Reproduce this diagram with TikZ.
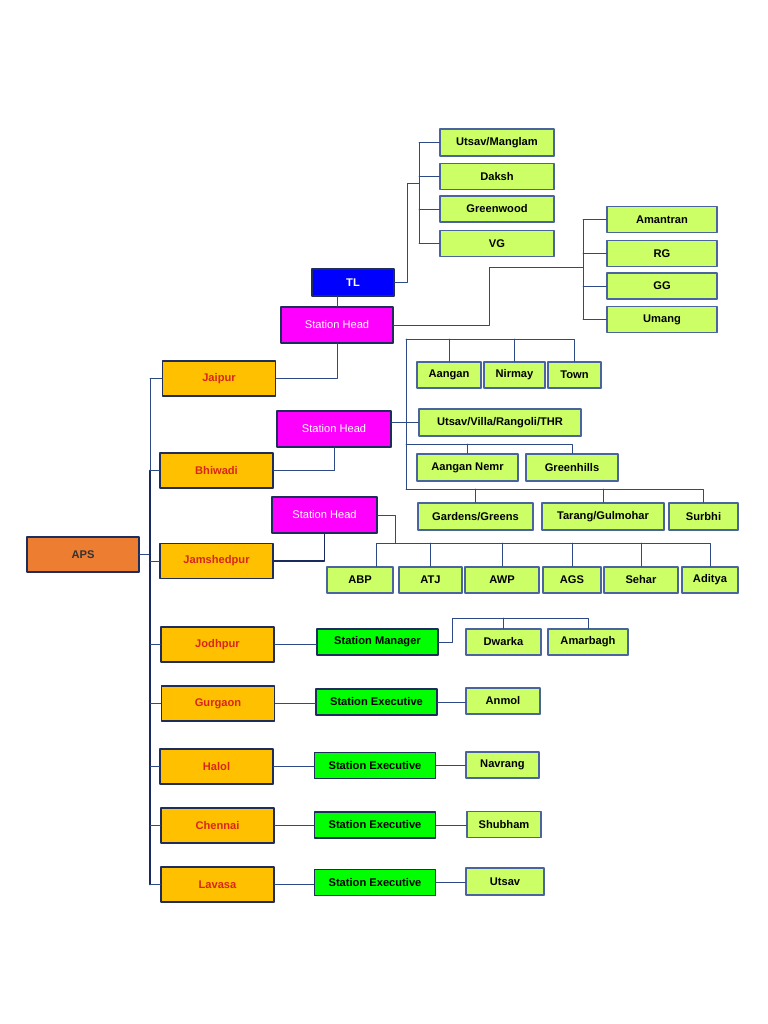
\documentclass[tikz,border=0pt]{standalone}
\usepackage{fontspec}
\setmainfont{Liberation Sans}
\usetikzlibrary{shadows}

\definecolor{apsorange}{HTML}{ED7D31}
\definecolor{cityorange}{HTML}{FFC000}
\definecolor{cityred}{HTML}{D8261B}
\definecolor{headpink}{HTML}{FF00FF}
\definecolor{tlblue}{HTML}{0000FF}
\definecolor{leaflime}{HTML}{CCFF66}
\definecolor{staffgreen}{HTML}{00FF00}
\definecolor{boxnavy}{HTML}{1F2D5C}
\definecolor{leafblue}{HTML}{4A64A0}
\definecolor{linknavy}{HTML}{2E4A86}
\definecolor{spinenavy}{HTML}{1B2A5E}

\begin{document}
\begin{tikzpicture}[x=0.03cm,y=-0.03cm,line cap=round,line join=round,
  box/.style={draw=boxnavy,line width=1pt,inner sep=0pt,minimum height=0.78cm,
    font=\fontsize{9.5}{11}\selectfont\bfseries,
    drop shadow={shadow xshift=0.7pt,shadow yshift=-0.7pt,opacity=0.3}},
  city/.style={box,fill=cityorange,text=cityred,minimum width=3.39cm,
    minimum height=1.05cm,line width=1.2pt},
  head/.style={box,fill=headpink,text=white,minimum height=1.08cm,
    font=\fontsize{9.5}{11}\selectfont},
  leaf/.style={box,fill=leaflime,draw=leafblue,line width=0.9pt,text=black},
  staff/.style={box,fill=staffgreen,text=black,minimum width=3.63cm},
  link/.style={draw=linknavy,line width=0.8pt},
  spine/.style={draw=spinenavy,line width=1.5pt}]
  \useasboundingbox[fill=white] (0,0) rectangle (768,1024);

  % root and cities
  \node[city,fill=apsorange,text=black!80,minimum width=3.36cm] (aps) at (83,554.5) {APS};
  \node[city] (jaipur) at (219,378.5) {Jaipur};
  \node[city] (bhiwadi) at (216.5,470.5) {Bhiwadi};
  \node[city] (jamshedpur) at (216.5,561) {Jamshedpur};
  \node[city] (jodhpur) at (217.5,644.5) {Jodhpur};
  \node[city] (gurgaon) at (218,703.5) {Gurgaon};
  \node[city] (halol) at (216.5,766.5) {Halol};
  \node[city] (chennai) at (217.5,825.5) {Chennai};
  \node[city] (lavasa) at (217.5,884.5) {Lavasa};

  % station heads
  \node[box,fill=tlblue,text=white,minimum width=2.46cm,minimum height=0.81cm] (tl) at (353,282.5) {TL};
  \node[head,minimum width=3.36cm] (sha) at (337,325) {Station Head};
  \node[head,minimum width=3.42cm] (shb) at (334,429) {Station Head};
  \node[head,minimum width=3.15cm] (shc) at (324.5,515) {Station Head};

  % staff
  \node[staff] (sm) at (377.5,642) {Station Manager};
  \node[staff] (sea) at (376.5,702) {Station Executive};
  \node[staff] (seb) at (375,765.5) {Station Executive};
  \node[staff] (sec) at (375,825) {Station Executive};
  \node[staff] (sed) at (375,882.5) {Station Executive};

  % sites under TL
  \node[leaf,minimum width=3.42cm,minimum height=0.81cm] (utsavm) at (497,142.5) {Utsav/Manglam};
  \node[leaf,minimum width=3.42cm] (daksh) at (497,176.5) {Daksh};
  \node[leaf,minimum width=3.42cm] (greenwood) at (497,209) {Greenwood};
  \node[leaf,minimum width=3.42cm] (vg) at (497,243.5) {VG};

  % sites under first head
  \node[leaf,minimum width=3.3cm] (amantran) at (662,219.5) {Amantran};
  \node[leaf,minimum width=3.3cm] (rg) at (662,253.5) {RG};
  \node[leaf,minimum width=3.3cm] (gg) at (662,286) {GG};
  \node[leaf,minimum width=3.3cm] (umang) at (662,319.5) {Umang};

  % sites under second head
  \node[leaf,minimum width=1.92cm] (aangan) at (449,375) {Aangan};
  \node[leaf,minimum width=1.83cm] (nirmay) at (514.5,375) {Nirmay};
  \node[leaf,minimum width=1.59cm] (town) at (574.5,375) {Town};
  \node[leaf,minimum width=4.86cm,minimum height=0.81cm] (utsavv) at (500,422.5) {Utsav/Villa/Rangoli/THR};
  \node[leaf,minimum width=3.03cm,minimum height=0.81cm] (aangann) at (467.5,467.5) {Aangan Nemr};
  \node[leaf,minimum width=2.76cm,minimum height=0.81cm] (greenhills) at (572,467.5) {Greenhills};
  \node[leaf,minimum width=3.45cm,minimum height=0.81cm] (gardens) at (475.5,516.5) {Gardens/Greens};
  \node[leaf,minimum width=3.66cm,minimum height=0.81cm] (tarang) at (603,516.5) {Tarang/Gulmohar};
  \node[leaf,minimum width=2.07cm,minimum height=0.81cm] (surbhi) at (703.5,516.5) {Surbhi};

  % sites under third head
  \node[leaf,minimum width=1.98cm] (abp) at (360,580) {ABP};
  \node[leaf,minimum width=1.89cm] (atj) at (430.5,580) {ATJ};
  \node[leaf,minimum width=2.22cm] (awp) at (502,580) {AWP};
  \node[leaf,minimum width=1.74cm] (ags) at (572,580) {AGS};
  \node[leaf,minimum width=2.22cm] (sehar) at (641,580) {Sehar};
  \node[leaf,minimum width=1.68cm] (aditya) at (710,580) {Aditya};

  % sites under manager and executives
  \node[leaf,minimum width=2.25cm] (dwarka) at (503.5,642) {Dwarka};
  \node[leaf,minimum width=2.4cm] (amarbagh) at (588,642) {Amarbagh};
  \node[leaf,minimum width=2.22cm] (anmol) at (503,701) {Anmol};
  \node[leaf,minimum width=2.19cm] (navrang) at (502.5,765) {Navrang};
  \node[leaf,minimum width=2.22cm] (shubham) at (504,824.5) {Shubham};
  \node[leaf,minimum width=2.34cm,minimum height=0.81cm] (utsav) at (505,881.5) {Utsav};

  % trunk from APS
  \coordinate (trunk) at (150,554.5);
  \draw[link] (aps.east) -- (trunk);
  \draw[link] (jaipur.west -| trunk) -- (bhiwadi.west -| trunk);
  \draw[spine] (bhiwadi.west -| trunk) -- (lavasa.west -| trunk);
  \foreach \city in {jaipur,bhiwadi,jamshedpur,jodhpur,gurgaon,halol,chennai,lavasa}
    \draw[link] (\city.west) -- (\city.west -| trunk);

  % TL branch
  \coordinate (tlbus) at (419,183);
  \draw[link] (sha.north) -- (sha.north |- tl.south);
  \draw[link] (tl.east) -- ++(13,0) |- (tlbus);
  \draw[link] (utsavm.west -| tlbus) -- (vg.west -| tlbus);
  \foreach \site in {utsavm,daksh,greenwood,vg}
    \draw[link] (\site.west -| tlbus) -- (\site.west);

  % first head
  \coordinate (shabus) at (583,267);
  \draw[link] (sha.south) |- (jaipur.east);
  \draw[link] (sha.east) -- ++(96,0) |- (shabus);
  \draw[link] (amantran.west -| shabus) -- (umang.west -| shabus);
  \foreach \site in {amantran,rg,gg,umang}
    \draw[link] (\site.west -| shabus) -- (\site.west);

  % second head
  \coordinate (shbtop) at (406,339);
  \coordinate (shbmid) at (406,444);
  \coordinate (shbbot) at (406,489);
  \draw[link] (shb.south) |- (bhiwadi.east);
  \draw[link] (shbtop) -- (shbbot);
  \draw[link] (utsavv.west -| shb.east) -- (utsavv.west);
  \draw[link] (shbtop) -| (town.north);
  \draw[link] (shbmid) -| (greenhills.north);
  \draw[link] (shbbot) -| (surbhi.north);
  \foreach \site in {aangan,nirmay}
    \draw[link] (\site.north) -- (\site.north |- shbtop);
  \draw[link] (aangann.north) -- (aangann.north |- shbmid);
  \foreach \site in {gardens,tarang}
    \draw[link] (\site.north) -- (\site.north |- shbbot);

  % third head
  \coordinate (shcbus) at (395,543);
  \draw[spine] (shc.south) |- (jamshedpur.east);
  \draw[link] (shc.east) -| (shcbus);
  \draw[link] ([xshift=0.5cm]abp.north) |- (aditya.north |- shcbus) -- (aditya.north);
  \foreach \site in {atj,awp,ags,sehar}
    \draw[link] (\site.north) -- (\site.north |- shcbus);

  % manager and executives
  \coordinate (smbus) at (452,618);
  \draw[link] (jodhpur.east) -- (jodhpur.east -| sm.west);
  \draw[link] (sm.east) -| (smbus) -| (amarbagh.north);
  \draw[link] (dwarka.north) -- (dwarka.north |- smbus);
  \foreach \city/\exec/\site in {gurgaon/sea/anmol,halol/seb/navrang,chennai/sec/shubham,lavasa/sed/utsav}{
    \draw[link] (\city.east) -- (\city.east -| \exec.west);
    \draw[link] (\exec.east) -- (\exec.east -| \site.west);
  }
\end{tikzpicture}
\end{document}
